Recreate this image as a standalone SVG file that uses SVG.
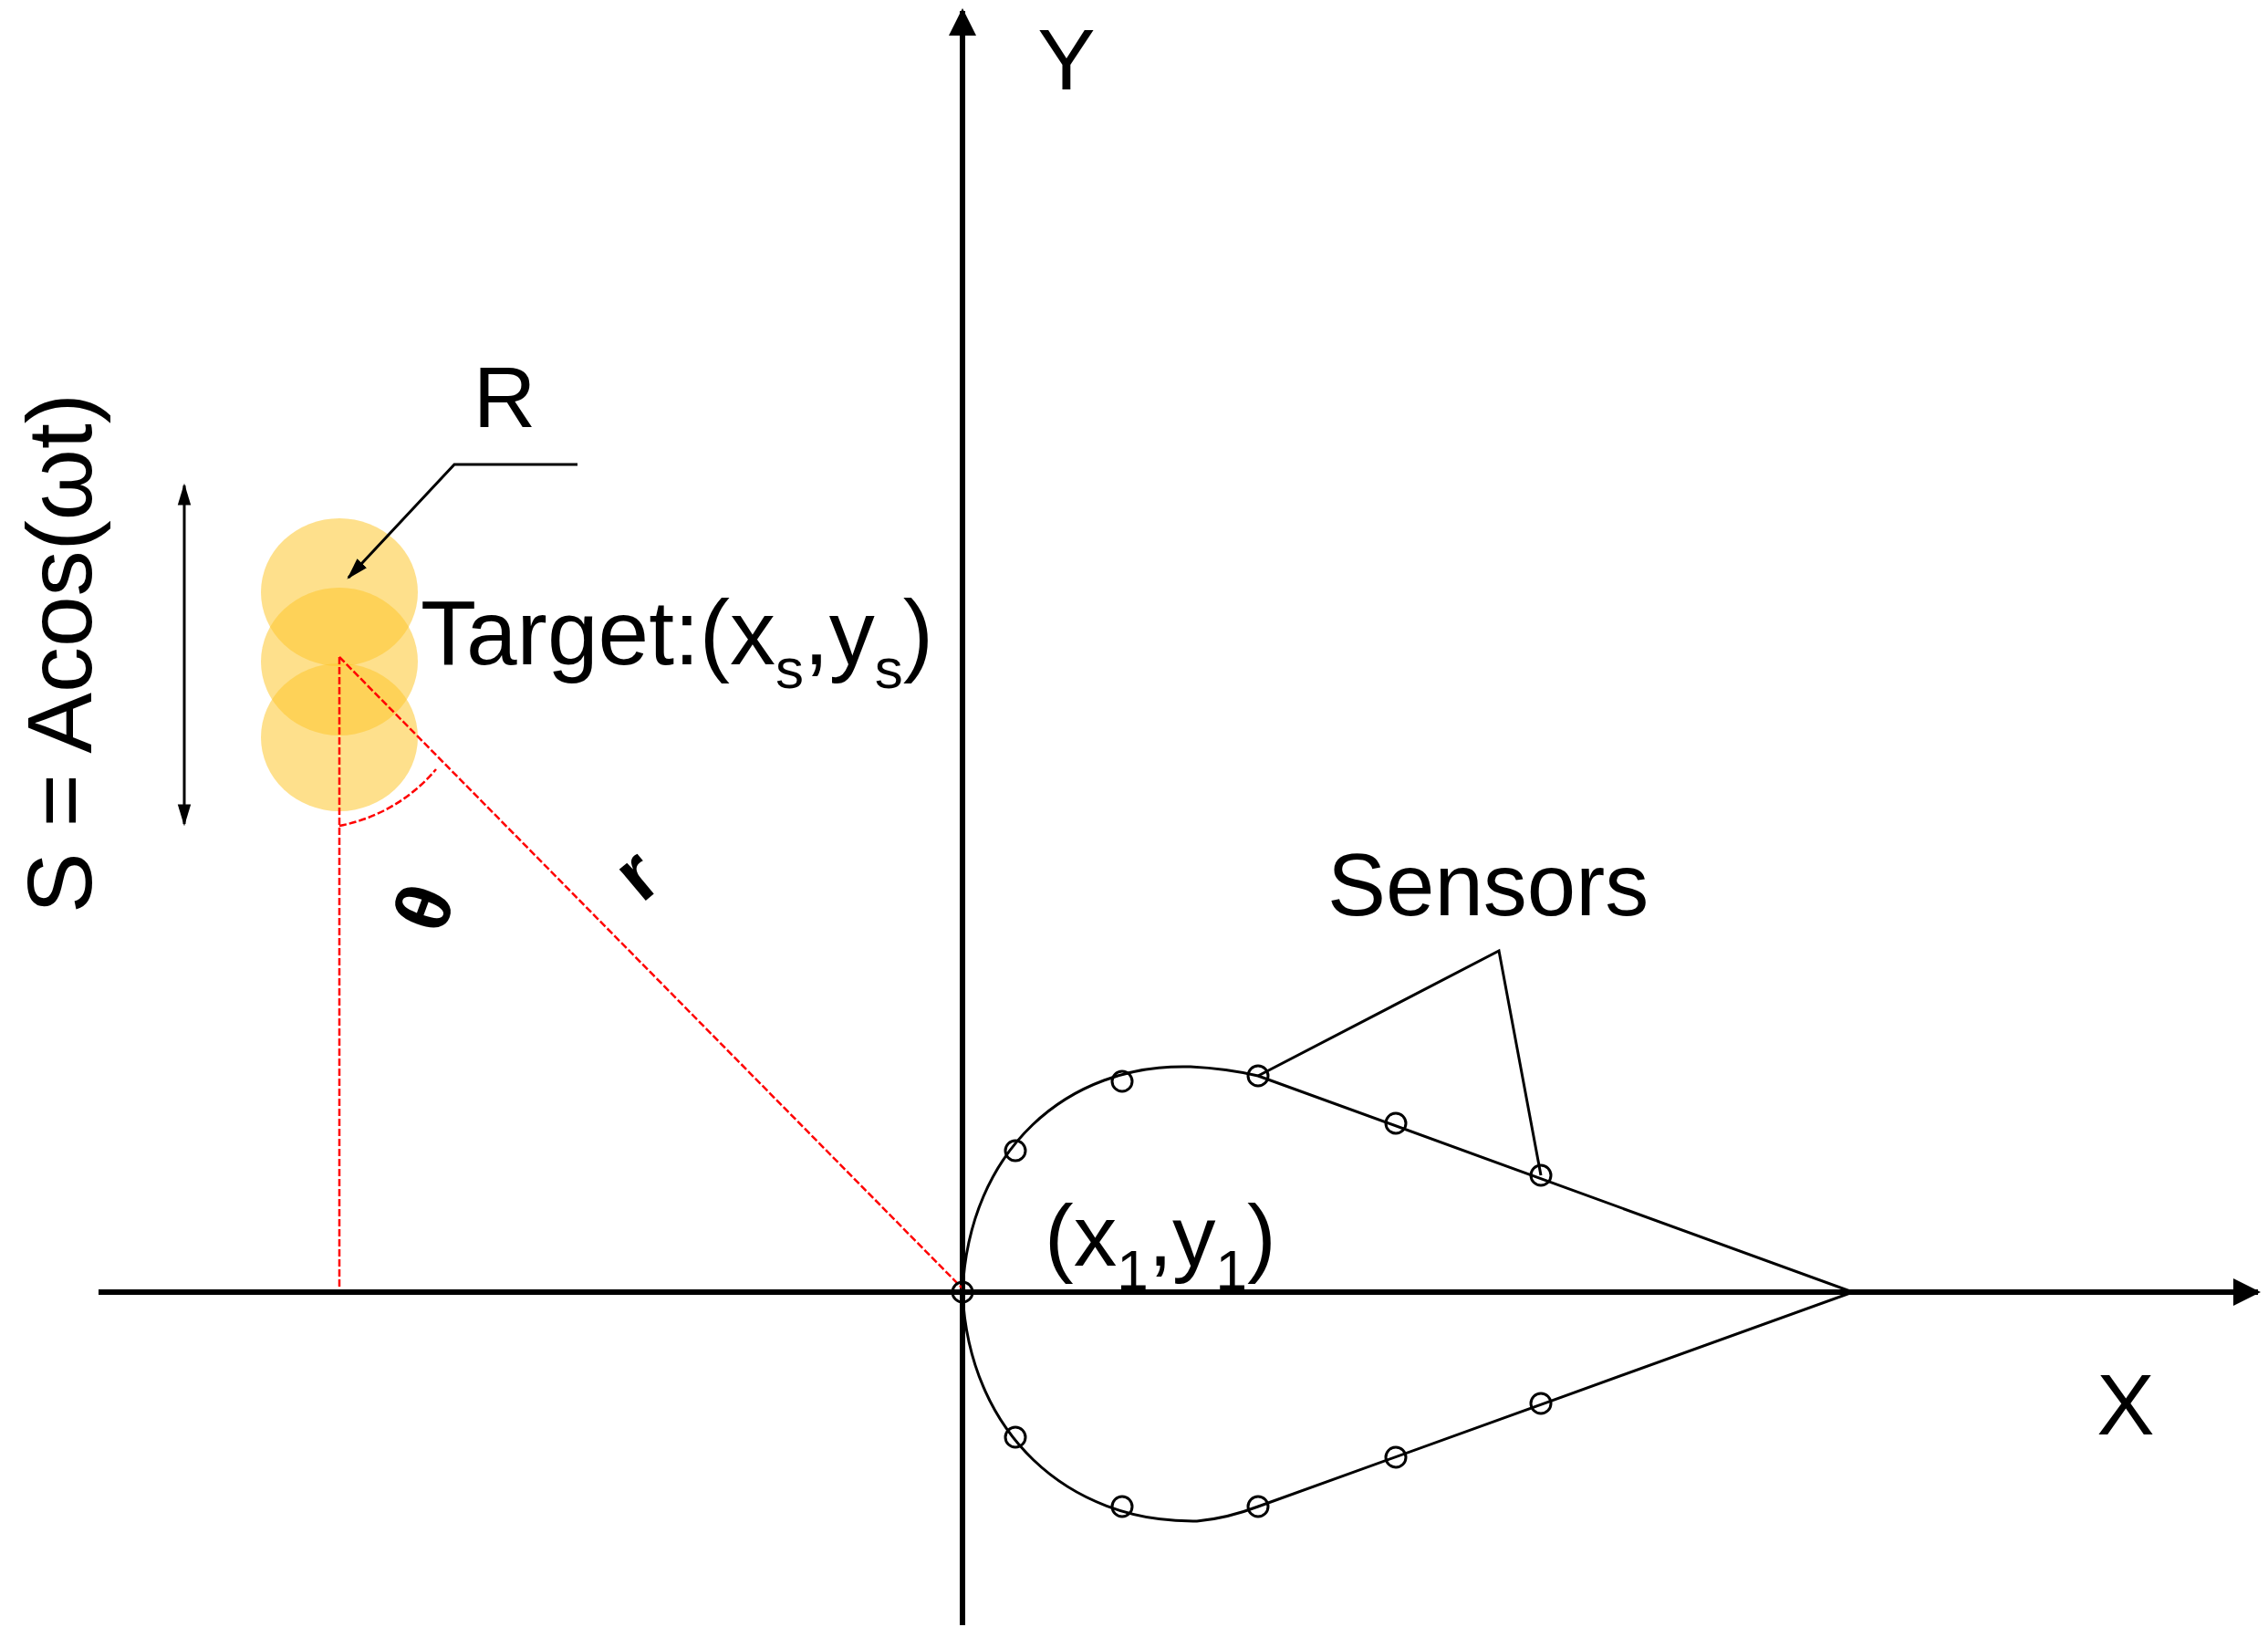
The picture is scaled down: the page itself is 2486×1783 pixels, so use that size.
<svg xmlns="http://www.w3.org/2000/svg" width="2486" height="1783" viewBox="0 0 2486 1783">
<style>
text{font-family:"Liberation Sans",Arial,sans-serif;fill:#000}
.ax{stroke:#000;stroke-width:6;fill:none}
.ln{stroke:#000;stroke-width:3;fill:none}
.rd{stroke:#f00;stroke-width:2.5;fill:none;stroke-dasharray:8 3}
.sn{stroke:#000;stroke-width:3;fill:none}
.tg{fill:#fdc62d;fill-opacity:0.55}
</style>
<defs>
<marker id="big" viewBox="0 0 10 10" refX="9" refY="5" markerWidth="30" markerHeight="30" markerUnits="userSpaceOnUse" orient="auto"><path d="M0,0 L10,5 L0,10 z" fill="#000"/></marker>
<marker id="sm" viewBox="0 0 10 10" refX="9" refY="5" markerWidth="24" markerHeight="24" markerUnits="userSpaceOnUse" orient="auto-start-reverse"><path d="M0,2 L10,5 L0,8 z" fill="#000"/></marker>
</defs>
<g id="target">
<ellipse class="tg" cx="372" cy="649" rx="86" ry="81"/>
<ellipse class="tg" cx="372" cy="725" rx="86" ry="81"/>
<ellipse class="tg" cx="372" cy="808" rx="86" ry="81"/>
<text x="461" y="728" font-size="100">Target:(x<tspan font-size="62" dy="26">s</tspan><tspan dy="-26">,y</tspan><tspan font-size="62" dy="26">s</tspan><tspan dy="-26">)</tspan></text>
</g>
<g id="connectors">
<line class="ax" x1="108" y1="1416" x2="2475" y2="1416" marker-end="url(#big)"/>
<line class="ax" x1="1055" y1="1781" x2="1055" y2="12" marker-end="url(#big)"/>
<line class="ln" x1="202" y1="532" x2="202" y2="903" marker-start="url(#sm)" marker-end="url(#sm)"/>
<polyline class="ln" points="633,509 498,509 382,633" marker-end="url(#sm)"/>
<line class="rd" x1="372" y1="720" x2="372" y2="1412"/>
<line class="rd" x1="372" y1="720" x2="1055" y2="1412"/>
<path class="rd" d="M372,905 A183,183 0 0 0 478,843"/>
<path class="ln" d="M1055,1416 C1062,1260 1170,1165 1305,1169 Q1345,1171 1379,1179 L2031,1416 L1379,1651 Q1345,1664 1312,1667 C1170,1669 1062,1570 1055,1416 Z"/>
<polyline class="ln" stroke-width="2.5" points="1379,1179 1643,1042 1689,1288"/>
</g>
<g id="sensors">
<circle class="sn" cx="1055" cy="1416" r="11"/>
<circle class="sn" cx="1113" cy="1261" r="11"/>
<circle class="sn" cx="1230" cy="1185" r="11"/>
<circle class="sn" cx="1379" cy="1179" r="11"/>
<circle class="sn" cx="1530" cy="1231" r="11"/>
<circle class="sn" cx="1689" cy="1288" r="11"/>
<circle class="sn" cx="1113" cy="1575" r="11"/>
<circle class="sn" cx="1230" cy="1651" r="11"/>
<circle class="sn" cx="1379" cy="1651" r="11"/>
<circle class="sn" cx="1530" cy="1597" r="11"/>
<circle class="sn" cx="1689" cy="1538" r="11"/>
</g>
<g id="labels">
<text x="1169" y="98" font-size="95" text-anchor="middle">Y</text>
<text x="2330" y="1572" font-size="95" text-anchor="middle">X</text>
<text x="553" y="468" font-size="95" text-anchor="middle">R</text>
<text x="1455" y="1003" font-size="96">Sensors</text>
<text x="1145" y="1387" font-size="95">(x<tspan font-size="62" dy="26">1</tspan><tspan dy="-26">,y</tspan><tspan font-size="62" dy="26">1</tspan><tspan dy="-26">)</tspan></text>
<text transform="translate(100,716) rotate(-90)" font-size="100" text-anchor="middle">S = Acos(ωt)</text>
<text transform="translate(492,1005) rotate(-70)" font-size="85" font-weight="bold" text-anchor="middle">θ</text>
<text transform="translate(716,980) rotate(-40)" font-size="85" font-weight="bold" text-anchor="middle">r</text>
</g>
</svg>
